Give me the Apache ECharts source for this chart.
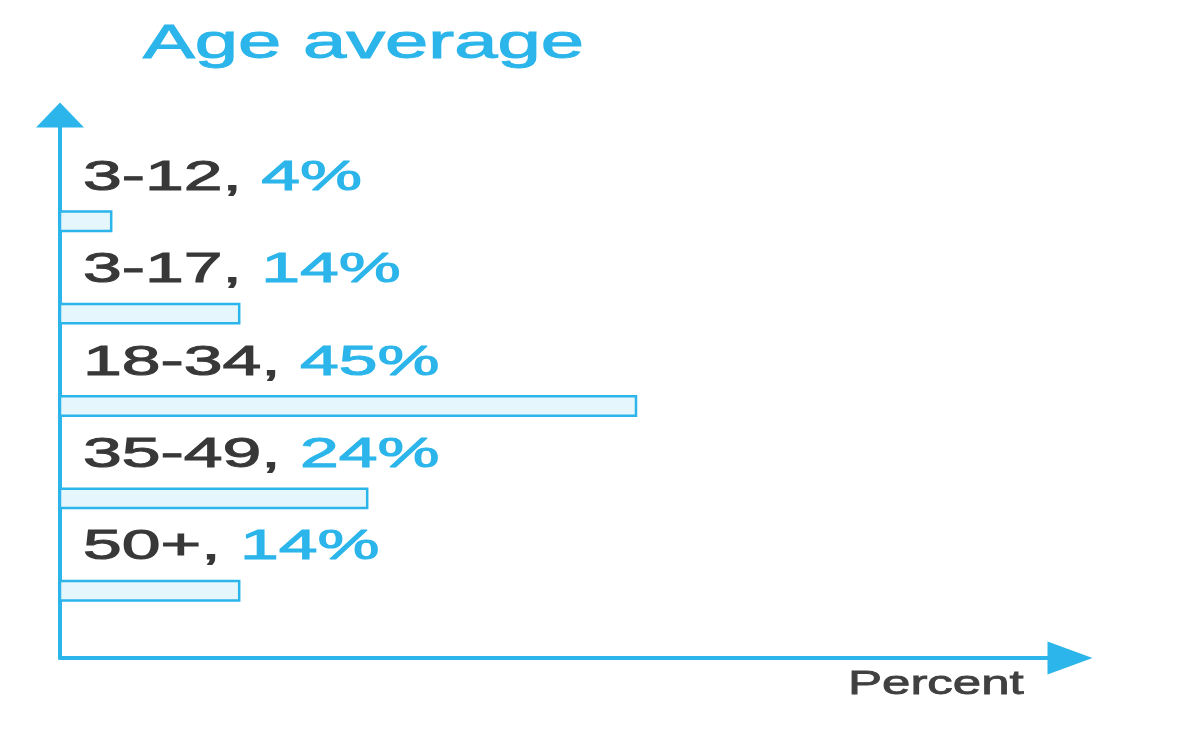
<!DOCTYPE html>
<html>
<head>
<meta charset="utf-8">
<script src="https://cdn.jsdelivr.net/npm/echarts@6/dist/echarts.min.js"></script>
<style>
html,body{margin:0;padding:0;background:#fff;}
#chart{width:1200px;height:750px;}
</style>
</head>
<body>
<div id="chart"></div>
<script>
const categories = ['3-12', '3-17', '18-34', '35-49', '50+'];
const values = [4, 14, 45, 24, 14];
const titleText = 'Age average';
const xAxisName = 'Percent';

const BLUE = '#2bb5ea';
const DARK = '#383838';
const FONT = '"Liberation Sans", Arial, sans-serif';

const chart = echarts.init(document.getElementById('chart'));

function renderItem(params, api) {
  const i = api.value(0);
  const v = api.value(1);
  const s = api.coord([0, i]);
  const e = api.coord([v, i]);
  const band = api.size([0, 1])[1];
  const barH = band * 0.21;
  return {
    type: 'group',
    children: [
      {
        type: 'rect',
        shape: { x: s[0], y: s[1] - barH / 2, width: e[0] - s[0], height: barH },
        style: { fill: '#e6f6fd', stroke: BLUE, lineWidth: 2.5 }
      },
      {
        type: 'text',
        x: s[0] + 23,
        y: s[1] - band * 0.465,
        scaleX: 1.66,
        style: {
          text: '{n|' + categories[i] + ', }{p|' + v + '%}',
          align: 'left',
          verticalAlign: 'middle',
          rich: {
            n: { fill: DARK, stroke: DARK, lineWidth: 1, fontSize: 42, fontFamily: FONT },
            p: { fill: BLUE, stroke: BLUE, lineWidth: 1, fontSize: 42, fontFamily: FONT }
          }
        }
      }
    ]
  };
}

const option = {
  backgroundColor: '#ffffff',
  animation: false,
  grid: [
    { left: 60, top: 115, width: 1010, height: 543 },
    { left: 60, top: 175, width: 1024, height: 462 }
  ],
  xAxis: [
    {
      gridIndex: 0, type: 'value', min: 0, max: 1,
      axisLine: { show: true, lineStyle: { color: BLUE, width: 4 }, symbol: ['none', 'triangle'], symbolSize: [33, 45] },
      axisTick: { show: false }, axisLabel: { show: false }, splitLine: { show: false }
    },
    { gridIndex: 1, type: 'value', min: 0, max: 80, show: false, splitLine: { show: false } }
  ],
  yAxis: [
    {
      gridIndex: 0, type: 'value', min: 0, max: 1,
      axisLine: { show: true, lineStyle: { color: BLUE, width: 4 }, symbol: ['none', 'triangle'], symbolSize: [48, 25] },
      axisTick: { show: false }, axisLabel: { show: false }, splitLine: { show: false }
    },
    { gridIndex: 1, type: 'category', data: categories, inverse: true, show: false }
  ],
  graphic: [
    {
      type: 'text', x: 143, y: 45, scaleX: 1.62,
      style: { text: titleText, fill: BLUE, stroke: BLUE, lineWidth: 1, font: '48px ' + FONT, align: 'left', verticalAlign: 'middle' }
    },
    {
      type: 'text', x: 848, y: 685, scaleX: 1.5,
      style: { text: xAxisName, fill: '#404040', stroke: '#404040', lineWidth: 0.8, font: '34px ' + FONT, align: 'left', verticalAlign: 'middle' }
    }
  ],
  series: [
    {
      type: 'custom',
      xAxisIndex: 1,
      yAxisIndex: 1,
      renderItem: renderItem,
      encode: { x: 1, y: 0 },
      data: categories.map((c, i) => [i, values[i]])
    }
  ]
};
chart.setOption(option);
</script>
</body>
</html>
